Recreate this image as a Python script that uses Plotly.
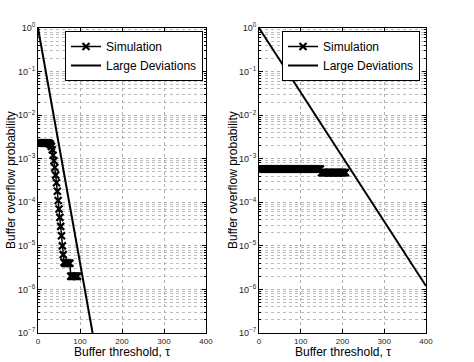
import plotly.graph_objects as go

# ---- data ----
tau_left_sim = [0, 2, 4, 6, 8, 10, 12, 14, 16, 18, 20, 22, 24, 26, 28, 30, 32, 34, 36, 38,
                40, 42, 44, 46, 48, 50, 52, 54, 56, 58, 60, 62, 64, 66, 68, 70, 72, 74, 76,
                78, 80, 82, 84, 86, 88, 90, 92, 94]
p_left_sim = [2.3e-3, 2.3e-3, 2.3e-3, 2.3e-3, 2.3e-3, 2.3e-3, 2.3e-3, 2.3e-3, 2.3e-3, 2.3e-3,
              2.3e-3, 2.3e-3, 2.3e-3, 2.25e-3, 2.2e-3, 2.1e-3, 1.9e-3, 1.6e-3, 1.2e-3, 9.0e-4,
              6.3e-4, 4.2e-4, 2.8e-4, 1.8e-4, 1.1e-4, 7.0e-5, 4.5e-5, 2.8e-5, 1.7e-5, 1.0e-5,
              6.3e-6, 4.2e-6, 4.0e-6, 4.0e-6, 4.0e-6, 4.0e-6, 4.0e-6, 4.0e-6, 4.0e-6,
              2.0e-6, 2.0e-6, 2.0e-6, 2.0e-6, 2.0e-6, 2.0e-6, 2.0e-6, 2.0e-6, 2.0e-6]

tau_left_ld = [0, 130]
p_left_ld = [1.0, 1e-7]

tau_right_sim = [0, 3, 6, 9, 12, 15, 18, 21, 24, 27, 30, 33, 36, 39, 42, 45, 48, 51, 54, 57,
                 60, 63, 66, 69, 72, 75, 78, 81, 84, 87, 90, 93, 96, 99, 102, 105, 108, 111,
                 114, 117, 120, 123, 126, 129, 132, 135, 138, 141, 144, 147, 150, 153, 156,
                 159, 162, 165, 168, 171, 174, 177, 180, 183, 186, 189, 192, 195, 198, 201,
                 204, 207]
p_right_sim = [5.8e-4] * 50 + [4.8e-4] * 20

tau_right_ld = [0, 400]
p_right_ld = [1.0, 1.2e-6]

y_tickvals = [1e-7, 1e-6, 1e-5, 1e-4, 1e-3, 1e-2, 1e-1, 1]
y_ticktext = ["10<sup>−7</sup>", "10<sup>−6</sup>", "10<sup>−5</sup>", "10<sup>−4</sup>",
              "10<sup>−3</sup>", "10<sup>−2</sup>", "10<sup>−1</sup>", "10<sup>0</sup>"]
x_tickvals = [0, 100, 200, 300, 400]

minor_vals = [k * 10.0 ** e for e in range(-7, 0) for k in range(2, 10)]

FONT = "Liberation Sans, Arial, Helvetica, sans-serif"
W, H = 474, 362

fig = go.Figure()

sim_style = dict(mode="lines+markers", line=dict(color="black", width=1.5),
                 marker=dict(symbol="x-thin", size=7, line=dict(color="black", width=2.2)))
ld_style = dict(mode="lines", line=dict(color="black", width=2))

fig.add_trace(go.Scatter(x=tau_left_sim, y=p_left_sim, name="Simulation",
                         xaxis="x", yaxis="y", legend="legend", **sim_style))
fig.add_trace(go.Scatter(x=tau_left_ld, y=p_left_ld, name="Large Deviations",
                         xaxis="x", yaxis="y", legend="legend", **ld_style))
fig.add_trace(go.Scatter(x=tau_right_sim, y=p_right_sim, name="Simulation",
                         xaxis="x2", yaxis="y2", legend="legend2", **sim_style))
fig.add_trace(go.Scatter(x=tau_right_ld, y=p_right_ld, name="Large Deviations",
                         xaxis="x2", yaxis="y2", legend="legend2", **ld_style))

grid = dict(gridcolor="#b0b0b0", griddash="dot", gridwidth=1)

def xaxis(domain, anchor):
    return dict(domain=domain, anchor=anchor, range=[0, 400], tickvals=x_tickvals,
                automargin=False,
                showline=True, linecolor="black", linewidth=1, mirror="ticks",
                ticks="inside", ticklen=4, tickcolor="black",
                tickfont=dict(size=8, color="#222", family=FONT),
                showgrid=True, zeroline=False, **grid)

def yaxis(anchor):
    return dict(domain=[29 / H, 1 - 28 / H], anchor=anchor, type="log", range=[-7, 0],
                automargin=False,
                tickvals=y_tickvals, ticktext=y_ticktext,
                showline=True, linecolor="black", linewidth=1, mirror="ticks",
                ticks="inside", ticklen=4, tickcolor="black",
                tickfont=dict(size=9, color="#222", family=FONT),
                showgrid=True, zeroline=False, **grid,
                minor=dict(tickvals=minor_vals, showgrid=True, ticks="inside", ticklen=2,
                           tickcolor="black", gridcolor="#bcbcbc", griddash="dot"))

legend_style = dict(bgcolor="white", bordercolor="black", borderwidth=1,
                    font=dict(size=12, color="black", family=FONT),
                    yanchor="top", xanchor="right", tracegroupgap=0, itemwidth=30)

fig.update_layout(
    width=W, height=H,
    margin=dict(l=0, r=0, t=0, b=0, autoexpand=False),
    paper_bgcolor="white", plot_bgcolor="white",
    font=dict(family=FONT, color="black"),
    xaxis=xaxis([38 / W, 206 / W], "y"),
    yaxis=yaxis("x"),
    xaxis2=xaxis([259 / W, 426 / W], "y2"),
    yaxis2=yaxis("x2"),
    legend=dict(x=203 / W, y=1 - 31 / H, **legend_style),
    legend2=dict(x=420 / W, y=1 - 31 / H, **legend_style),
    showlegend=True,
)

ann_font = dict(size=12, color="black", family=FONT)
for cx in [(38 + 206) / 2, (259 + 426) / 2]:
    fig.add_annotation(text="Buffer threshold, τ", xref="paper", yref="paper",
                       x=cx / W, y=1 - 352 / H, showarrow=False, font=ann_font,
                       xanchor="center", yanchor="middle")
for cx in [11, 233]:
    fig.add_annotation(text="Buffer overflow probability", xref="paper", yref="paper",
                       x=cx / W, y=1 - 180 / H, showarrow=False, font=ann_font,
                       textangle=-90, xanchor="center", yanchor="middle")

fig.write_html("out.html",
               config={"displayModeBar": False},
               post_script="document.body.style.margin='0';document.body.style.overflow='hidden';")
